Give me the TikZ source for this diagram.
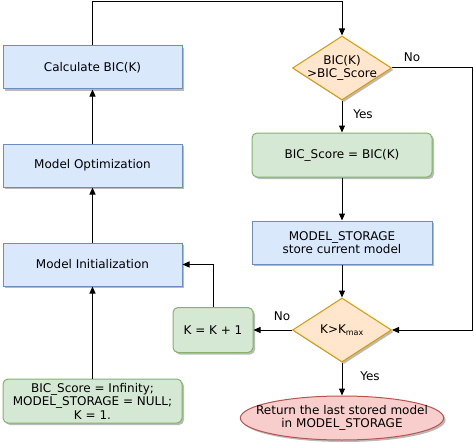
\documentclass[tikz,border=0pt]{standalone}
\usepackage{fontspec}
\setmainfont{DejaVu Sans}
\usetikzlibrary{shapes.geometric,arrows.meta,shadows}

\definecolor{bluefill}{HTML}{DAE8FC}
\definecolor{blueline}{HTML}{6C8EBF}
\definecolor{greenfill}{HTML}{D5E8D4}
\definecolor{greenline}{HTML}{82B366}
\definecolor{orangefill}{HTML}{FFE6CC}
\definecolor{orangeline}{HTML}{D79B00}
\definecolor{redfill}{HTML}{F8CECC}
\definecolor{redline}{HTML}{B85450}

\begin{document}
\begin{tikzpicture}[x=1pt, y=-1pt, font=\fontsize{12}{13.5}\selectfont,
  shade/.style={drop shadow={shadow xshift=2pt, shadow yshift=-2pt, fill=black!45, opacity=0.6}},
  procbox/.style={rectangle, draw=blueline, line width=1pt, fill=bluefill, shade, align=center, minimum width=179pt, minimum height=43pt},
  greenbox/.style={rectangle, rounded corners=5pt, draw=greenline, line width=1pt, fill=greenfill, shade, align=center, minimum height=44pt},
  decide/.style={diamond, draw=orangeline, line width=1pt, fill=orangefill, shade, align=center, inner sep=-16pt, minimum width=99pt, minimum height=64pt},
  flow/.style={-{Triangle[length=7pt, width=6pt]}, line width=1pt}]
  \useasboundingbox (0,0) rectangle (474,444);

  % left column
  \node[procbox] (calc) at (92.5,67.5) {Calculate BIC(K)};
  \node[procbox] (opt) at (92.5,165.5) {Model Optimization};
  \node[procbox] (initmodel) at (92.5,264.5) {Model Initialization};
  \node[greenbox, minimum width=179pt] (start) at (92.5,401) {BIC\_Score = Infinity;\\MODEL\_STORAGE = NULL;\\K = 1.};

  % right column
  \node[decide] (cmp) at (342,68) {BIC(K)\\>BIC\_Score};
  \node[greenbox, minimum width=180pt] (score) at (342,155) {BIC\_Score = BIC(K)};
  \node[procbox, minimum width=180pt] (store) at (342,242.5) {MODEL\_STORAGE\\store current model};
  \node[decide] (stop) at (342,330) {K>K\textsubscript{max}};
  \node[greenbox, minimum width=80pt, minimum height=45pt] (inc) at (213,330) {K = K + 1};
  \node[ellipse, draw=redline, line width=1pt, fill=redfill, shade, align=center, minimum width=202pt, minimum height=44pt, inner sep=-14pt] (ret) at (342,418) {Return the last stored model\\in MODEL\_STORAGE};

  \coordinate (T) at (0,2);
  \coordinate (R) at (472,330);

  % connectors
  \draw[flow] (start) -- (initmodel);
  \draw[flow] (initmodel) -- (opt);
  \draw[flow] (opt) -- (calc);
  \draw[flow] (calc.north) -- (calc.north |- T) -| (cmp.north);
  \draw[flow] (cmp.east) -| (R) -- (stop.east);
  \draw[flow] (cmp) -- (score);
  \draw[flow] (score) -- (store);
  \draw[flow] (store) -- (stop);
  \draw[flow] (stop) -- (inc);
  \draw[flow] (inc.north) |- (initmodel.east);
  \draw[flow] (stop) -- (ret);

  \node (no1) at (412,57) {No};
  \node (yes1) at (363,114) {Yes};
  \node (no2) at (282,316) {No};
  \node (yes2) at (370,376) {Yes};
\end{tikzpicture}
\end{document}
